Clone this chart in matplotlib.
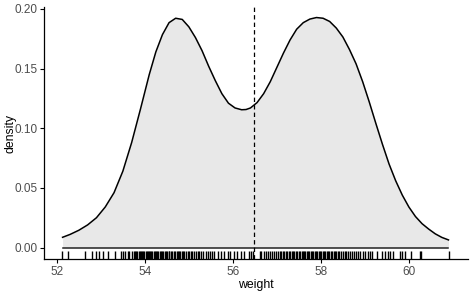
import numpy as np
import matplotlib.pyplot as plt

plt.rcParams['font.family'] = ['Liberation Sans', 'DejaVu Sans']

# density curve
dens_x = [52.13, 52.3, 52.5, 52.7, 52.9, 53.1, 53.3, 53.5, 53.7, 53.9, 54.1, 54.25,
          54.4, 54.55, 54.7, 54.85, 55.0, 55.15, 55.3, 55.45, 55.6, 55.75, 55.9, 56.05,
          56.2, 56.3, 56.4, 56.55, 56.7, 56.85, 57.0, 57.15, 57.3, 57.45, 57.6, 57.75,
          57.9, 58.05, 58.2, 58.35, 58.5, 58.65, 58.8, 58.95, 59.1, 59.25, 59.4, 59.55,
          59.7, 59.85, 60.0, 60.15, 60.3, 60.45, 60.6, 60.75, 60.9]
dens_y = [0.0086, 0.0110, 0.0145, 0.0190, 0.0250, 0.0340, 0.0460, 0.0640, 0.0880, 0.1160,
          0.1450, 0.1640, 0.1785, 0.1885, 0.1922, 0.1912, 0.1850, 0.1760, 0.1650, 0.1520,
          0.1400, 0.1290, 0.1210, 0.1170, 0.1155, 0.1157, 0.1170, 0.1215, 0.1290, 0.1390,
          0.1510, 0.1630, 0.1740, 0.1830, 0.1885, 0.1915, 0.1928, 0.1922, 0.1895, 0.1840,
          0.1765, 0.1660, 0.1540, 0.1390, 0.1220, 0.1040, 0.0865, 0.0700, 0.0560, 0.0440,
          0.0340, 0.0260, 0.0200, 0.0155, 0.0115, 0.0085, 0.0064]

# rug (individual weights)
rug_left = [52.12, 52.25, 52.64, 52.80, 52.88, 52.95, 53.04, 53.17, 53.33, 53.46, 53.51,
            53.56, 53.61, 53.65, 53.71, 53.75, 53.78]
rug_peak1 = [53.80, 53.83, 53.86, 53.88, 53.91, 53.93, 53.96, 53.99, 54.02, 54.04, 54.07,
             54.09, 54.12, 54.15, 54.17, 54.20, 54.23, 54.26, 54.28, 54.31, 54.34, 54.37,
             54.40, 54.42, 54.45, 54.48, 54.51, 54.54, 54.56, 54.59, 54.62, 54.66, 54.69,
             54.72, 54.75, 54.78, 54.81, 54.84, 54.87, 54.90, 54.93, 54.97, 55.00, 55.04,
             55.08, 55.12, 55.16, 55.20, 55.24, 55.28, 55.33, 55.38, 55.43, 55.48, 55.53, 55.58]
rug_mid = [55.66, 55.74, 55.80, 55.88, 55.93, 56.02, 56.10, 56.19, 56.25, 56.36, 56.42, 56.46]
rug_peak2 = [56.61, 56.65, 56.70, 56.76, 56.80, 56.85, 56.89, 56.94, 56.98, 57.02, 57.06,
             57.10, 57.13, 57.17, 57.20, 57.24, 57.27, 57.30, 57.34, 57.37, 57.40, 57.43,
             57.46, 57.50, 57.53, 57.56, 57.59, 57.62, 57.65, 57.68, 57.71, 57.74, 57.77,
             57.80, 57.83, 57.86, 57.89, 57.92, 57.95, 57.98, 58.01, 58.04, 58.07, 58.10,
             58.13, 58.16, 58.19, 58.22, 58.25, 58.29, 58.32, 58.35, 58.39, 58.42, 58.46,
             58.50, 58.54, 58.58, 58.62, 58.66, 58.70, 58.75, 58.80, 58.85, 58.90, 58.95,
             59.00, 59.06, 59.12, 59.16]
rug_right = [59.27, 59.38, 59.45, 59.52, 59.57, 59.64, 59.79, 59.84, 59.91, 60.04, 60.25,
             60.28, 60.91]
weight_mean = 56.49

rug = rug_left + rug_peak1 + rug_mid + rug_peak2 + rug_right

fig = plt.figure(figsize=(4.74, 2.93), dpi=100)
ax = fig.add_axes([0.093, 0.116, 0.894, 0.86])

ax.fill_between(dens_x, 0, dens_y, color='#e8e8e8', lw=0)
ax.plot(dens_x, dens_y, color='black', lw=1.1)
ax.plot([dens_x[0], dens_x[-1]], [0, 0], color='#222222', lw=1.1)
ax.axvline(weight_mean, color='black', lw=0.9, ls=(0, (3.5, 2.5)))
ax.vlines(rug, 0, 0.032, transform=ax.get_xaxis_transform(), color='black', lw=1.0)

ax.set_xlim(51.71, 61.34)
ax.set_ylim(-0.0096, 0.2016)
ax.set_xticks([52, 54, 56, 58, 60])
ax.set_yticks([0, 0.05, 0.10, 0.15, 0.20])
ax.set_yticklabels(['0.00', '0.05', '0.10', '0.15', '0.20'])

for s in ['top', 'right']:
    ax.spines[s].set_visible(False)
for s in ['left', 'bottom']:
    ax.spines[s].set_linewidth(0.9)
ax.tick_params(length=3, width=0.8, labelsize=8.5, labelcolor='#4d4d4d', pad=2)
ax.set_xlabel('weight', fontsize=8.8, labelpad=1)
ax.set_ylabel('density', fontsize=8.8)
ax.yaxis.set_label_coords(-0.066, 0.5)

plt.savefig('out.png', dpi=100)
